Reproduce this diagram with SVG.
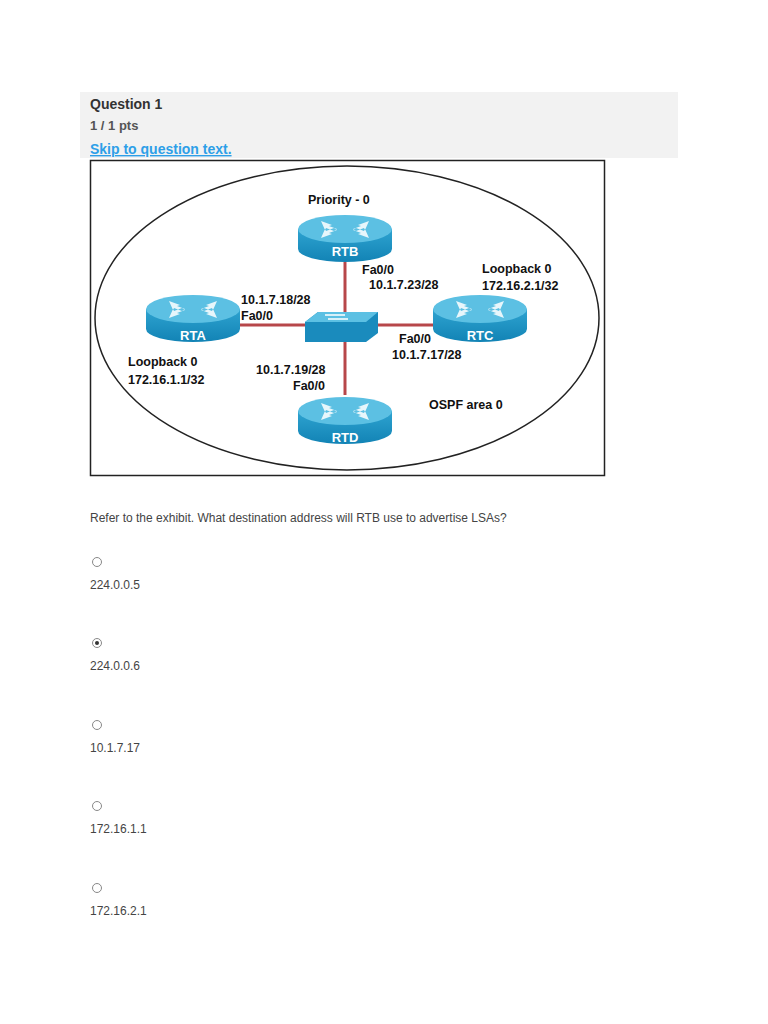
<svg xmlns="http://www.w3.org/2000/svg" width="768" height="1024" viewBox="0 0 768 1024">
<style>
.t{font-family:"Liberation Sans",Arial,sans-serif;font-weight:bold;font-size:12.5px;fill:#111}
.q{font-family:"Liberation Sans",Arial,sans-serif;font-size:12px;fill:#444}
.rl{font-family:"Liberation Sans",Arial,sans-serif;font-size:13px;font-weight:bold;fill:#fff;text-anchor:middle}
.ar{fill:#fff;opacity:0.85}
</style>
<defs>
<linearGradient id="rg" x1="0" y1="0" x2="0" y2="1"><stop offset="0" stop-color="#2ea3d0"/><stop offset="1" stop-color="#1283b5"/></linearGradient>
<g id="router">
<path d="M-47,-9 L-47,11 A47,13 0 0 0 47,11 L47,-9 Z" fill="url(#rg)"/>
<ellipse cx="0" cy="-9" rx="47" ry="14" fill="#5cc0e3"/>
<path class="ar" d="M-24,-17 l11,4 l-3,1 l8,3 l-3,2 l-8,-3 l-1,2z M24,-17 l-11,4 l3,1 l-8,3 l3,2 l8,-3 l1,2z M-24,0 l11,-4 l-3,-1 l8,-3 l-3,-2 l-8,3 l-1,-2z M24,0 l-11,-4 l3,-1 l-8,-3 l3,-2 l8,3 l1,-2z"/>
</g>
</defs>
<rect width="768" height="1024" fill="#fff"/>
<rect x="80" y="92" width="598" height="66" fill="#f2f2f2"/>
<text x="90" y="109" style="font-family:'Liberation Sans',Arial,sans-serif;font-weight:bold;font-size:14px;fill:#333">Question 1</text>
<text x="90" y="130" style="font-family:'Liberation Sans',Arial,sans-serif;font-weight:bold;font-size:13px;fill:#555">1 / 1 pts</text>
<text x="90" y="154" style="font-family:'Liberation Sans',Arial,sans-serif;font-weight:bold;font-size:14px;fill:#2d9fe8;text-decoration:underline">Skip to question text.</text>
<rect x="90.5" y="160.5" width="514" height="315" fill="#fff" stroke="#222" stroke-width="1.5"/>
<ellipse cx="347" cy="318" rx="252" ry="152" fill="none" stroke="#222" stroke-width="1.5"/>
<g id="connectors" stroke="#b7474a" stroke-width="3">
<line x1="345" y1="262" x2="345" y2="395"/>
<line x1="238" y1="325" x2="435" y2="325"/>
</g>
<g id="switch">
<path d="M305,322 L318,312 L378,312 L378,333 L366,342 L305,342 Z" fill="#1a8bbd"/>
<path d="M305,322 L318,312 L378,312 L366,322 Z" fill="#5cc0e3"/>
<path d="M325,315 h20 M348,319 h-20" stroke="#fff" stroke-width="1.5"/>
</g>
<g id="RTB"><use href="#router" x="345" y="238"/><text class="rl" x="345" y="256">RTB</text></g>
<g id="RTA"><use href="#router" x="193" y="318"/><text class="rl" x="193" y="340">RTA</text></g>
<g id="RTC"><use href="#router" x="480" y="318"/><text class="rl" x="480" y="340">RTC</text></g>
<g id="RTD"><use href="#router" x="345" y="420"/><text class="rl" x="345" y="442">RTD</text></g>
<text class="t" x="308" y="204">Priority - 0</text>
<text class="t" x="362" y="274">Fa0/0</text>
<text class="t" x="369" y="289">10.1.7.23/28</text>
<text class="t" x="482" y="273">Loopback 0</text>
<text class="t" x="482" y="290">172.16.2.1/32</text>
<text class="t" x="241" y="304">10.1.7.18/28</text>
<text class="t" x="241" y="320">Fa0/0</text>
<text class="t" x="399" y="343">Fa0/0</text>
<text class="t" x="392" y="359">10.1.7.17/28</text>
<text class="t" x="128" y="366">Loopback 0</text>
<text class="t" x="128" y="384">172.16.1.1/32</text>
<text class="t" x="256" y="374">10.1.7.19/28</text>
<text class="t" x="293" y="390">Fa0/0</text>
<text class="t" x="429" y="409">OSPF area 0</text>
<text class="q" x="90" y="522">Refer to the exhibit. What destination address will RTB use to advertise LSAs?</text>
<g fill="#fff" stroke="#888"><circle cx="97" cy="562" r="4.5"/><circle cx="97" cy="643" r="4.5"/><circle cx="97" cy="725" r="4.5"/><circle cx="97" cy="806" r="4.5"/><circle cx="97" cy="888" r="4.5"/></g>
<circle cx="97" cy="643" r="2" fill="#333"/>
<text class="q" x="90" y="589">224.0.0.5</text>
<text class="q" x="90" y="670">224.0.0.6</text>
<text class="q" x="90" y="752">10.1.7.17</text>
<text class="q" x="90" y="833">172.16.1.1</text>
<text class="q" x="90" y="915">172.16.2.1</text>
</svg>
